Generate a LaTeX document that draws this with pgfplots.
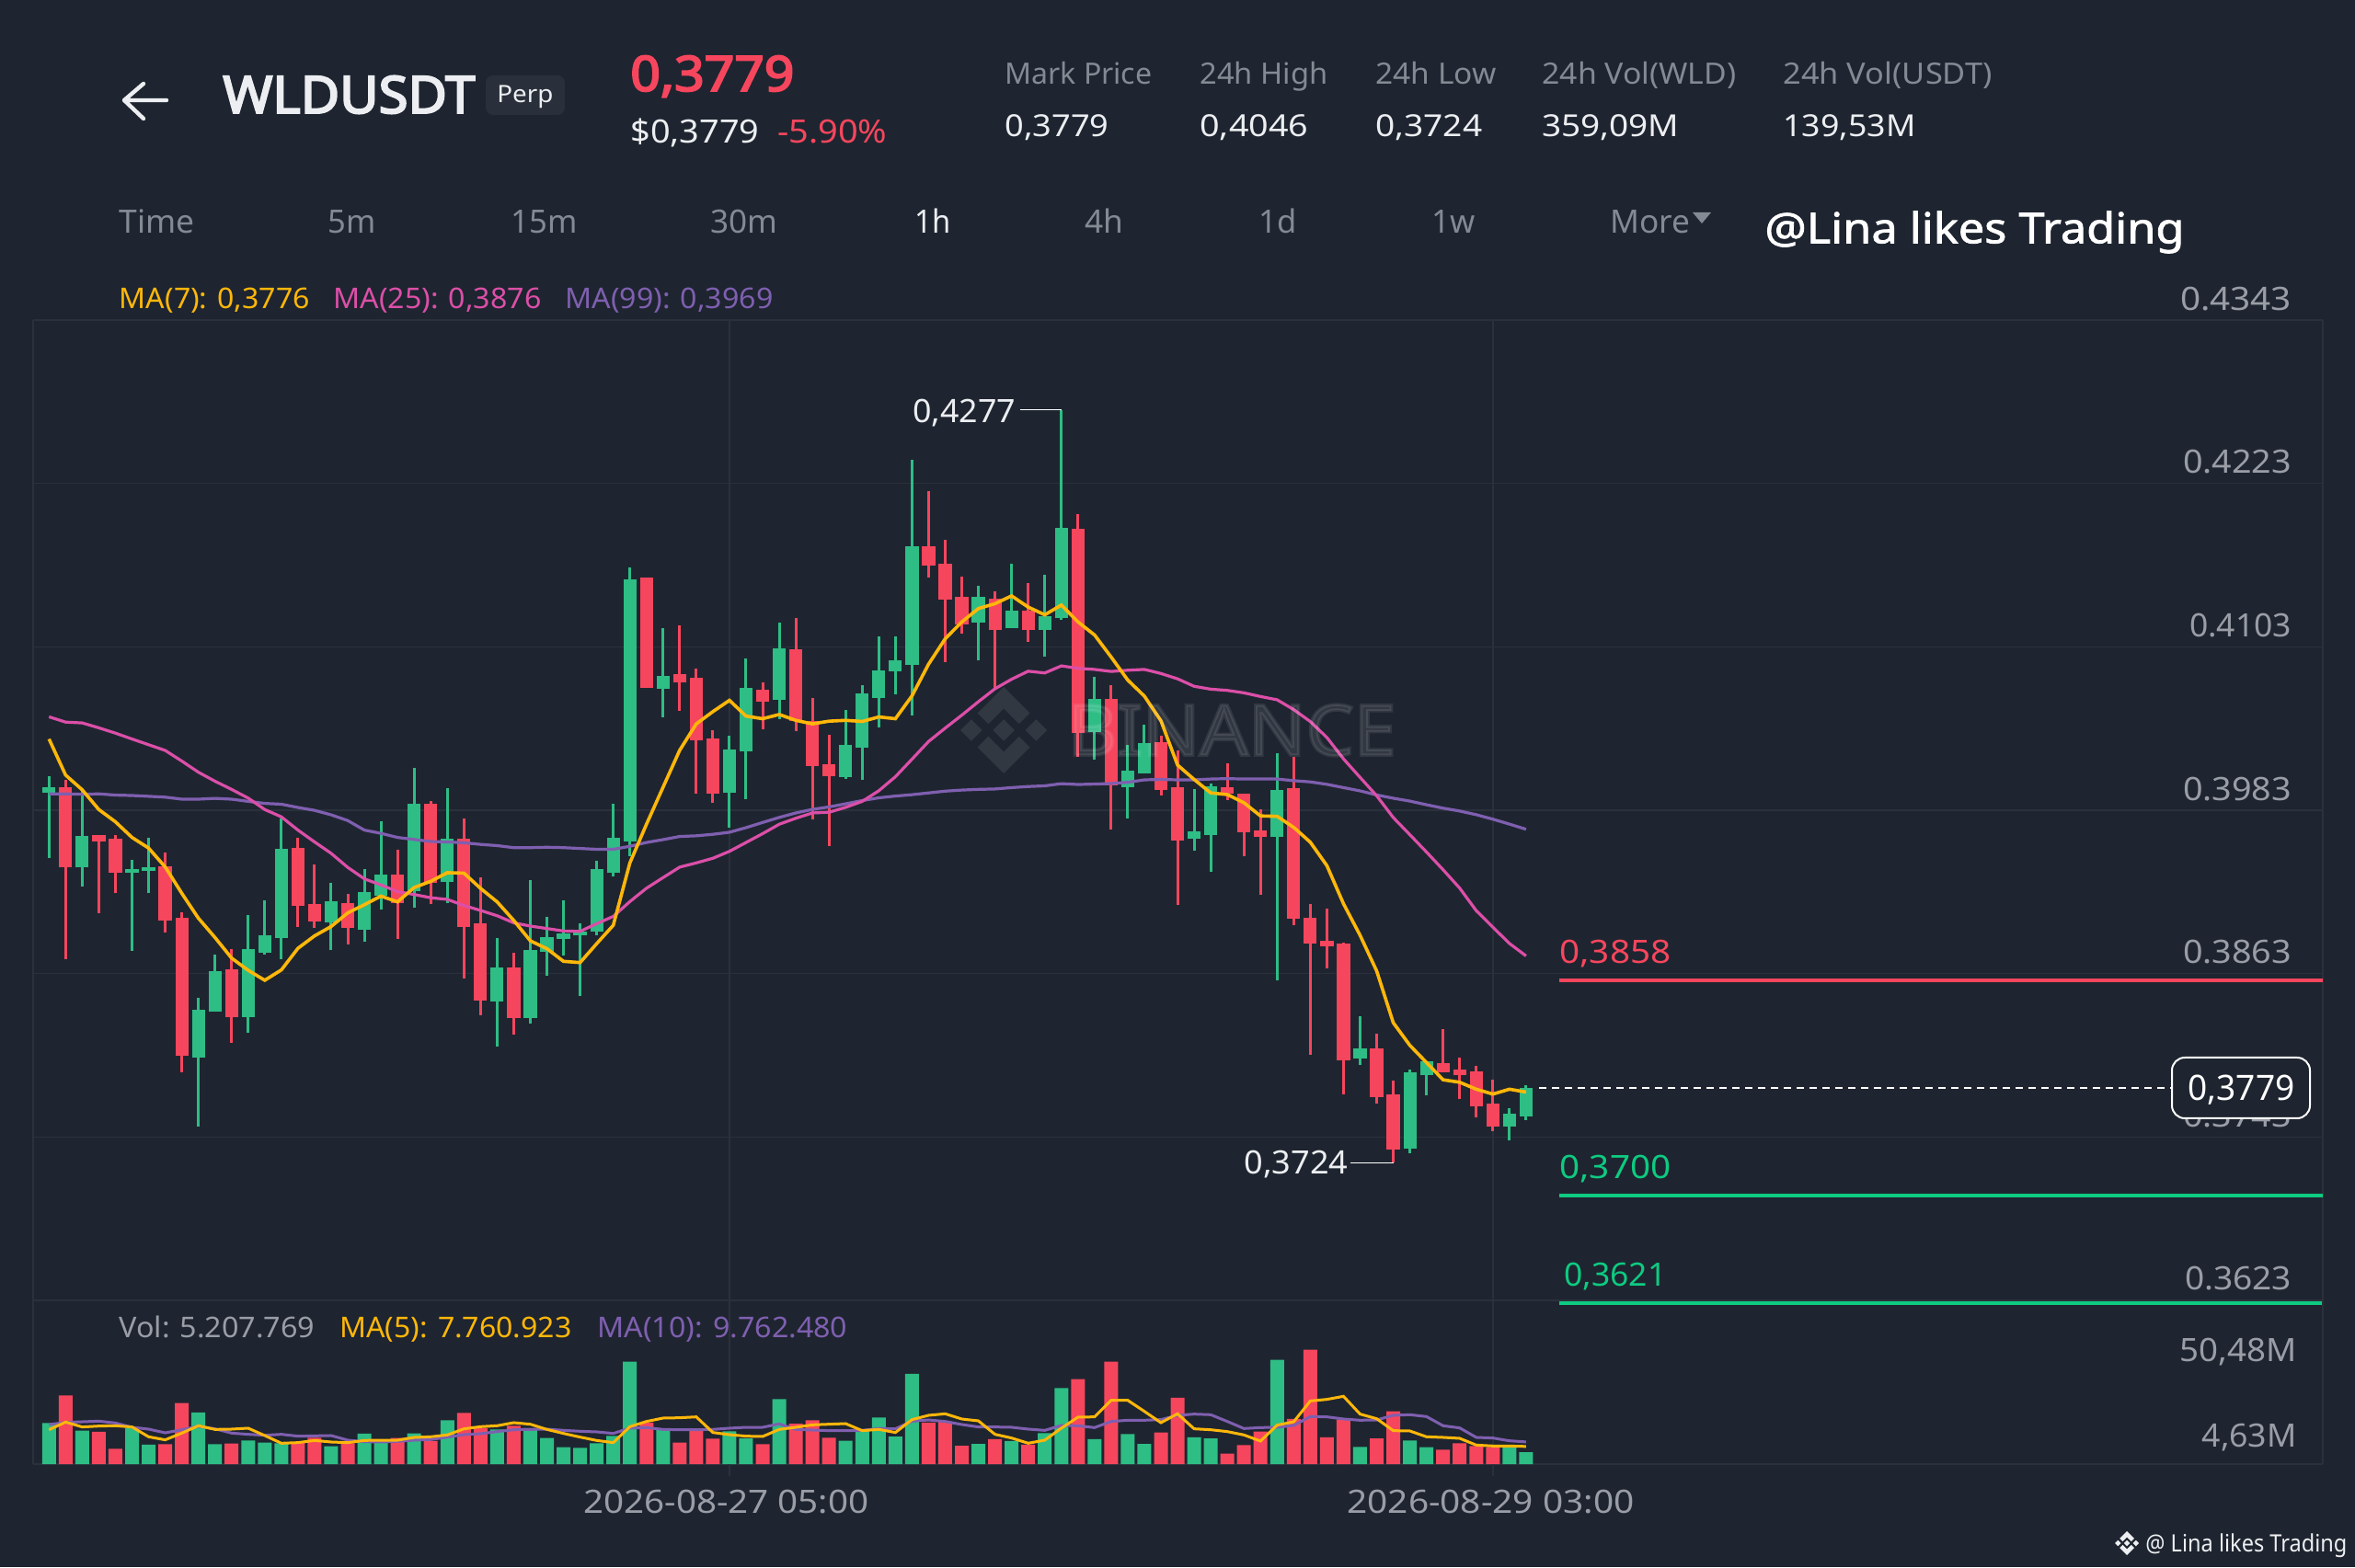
\documentclass[border=0pt]{standalone}
\usepackage{pgfplots}
\usepackage{pgfplotstable}
\usepackage{graphicx}
\usepackage{fontspec}
\setmainfont{Noto Sans}
\newfontfamily\nsb{Noto Sans}[FakeBold=3.6]
\newfontfamily\nsw{Noto Sans}[FakeBold=4.5]
\newfontfamily\nsm{Noto Sans}[FakeBold=1.6]
\pgfplotsset{compat=1.18}
\definecolor{bg}{HTML}{1E2530}
\definecolor{gridc}{HTML}{2A313C}
\definecolor{cgreen}{HTML}{2EBD85}
\definecolor{cred}{HTML}{F6465D}
\definecolor{lgreen}{HTML}{0ECB81}
\definecolor{maor}{HTML}{FFB70A}
\definecolor{mapk}{HTML}{DC4FA8}
\definecolor{mapu}{HTML}{7F5FB0}
\definecolor{gra}{HTML}{848A94}
\definecolor{grb}{HTML}{9A9DA6}
\definecolor{wht}{HTML}{ECEEF1}
\definecolor{badge}{HTML}{2A303B}
\pgfplotstableread{
i o h l c
0 .39959 .40079 .39482 .40001
2 .39413 .39980 .39272 .39639
5 .39371 .39467 .38795 .39401
6 .39383 .39630 .39220 .39413
9 .38015 .38449 .37506 .38361
10 .38352 .38768 .38352 .38651
12 .38313 .39061 .38196 .38810
13 .38783 .39169 .38771 .38910
14 .38892 .39769 .38735 .39543
17 .39009 .39299 .38804 .39160
19 .38952 .39401 .38862 .39232
20 .39199 .39751 .39103 .39359
22 .39235 .40140 .39112 .39880
24 .39302 .39989 .39151 .39621
27 .38422 .38892 .38093 .38672
29 .38301 .39320 .38262 .38801
30 .38792 .39049 .38614 .38901
31 .38883 .39169 .38762 .38928
32 .38910 .39000 .38464 .38937
33 .38940 .39458 .38910 .39401
34 .39368 .39877 .39341 .39630
35 .39598 .41613 .39495 .41526
37 .40720 .41166 .40510 .40818
41 .39960 .40379 .39702 .40278
42 .40260 .40947 .39913 .40730
44 .40639 .41205 .40500 .41017
48 .40076 .40565 .40061 .40309
49 .40291 .40748 .40050 .40688
50 .40657 .41104 .40438 .40856
51 .40849 .41104 .40678 .40929
52 .40898 .42404 .40528 .41766
56 .41208 .41477 .40929 .41399
58 .41166 .41637 .41166 .41298
60 .41156 .41557 .40960 .41257
61 .41239 .42770 .41231 .41905
63 .40407 .40807 .40200 .40647
65 .39999 .40309 .39770 .40120
66 .40099 .40460 .40099 .40322
69 .39619 .39987 .39532 .39674
70 .39649 .40026 .39378 .40008
74 .39631 .40249 .38583 .39981
79 .38004 .38320 .37956 .38079
82 .37344 .37926 .37308 .37902
83 .37883 .37983 .37733 .37983
88 .37504 .37642 .37404 .37600
89 .37582 .37810 .37555 .37790
}\greenT
\pgfplotstableread{
i o h l c
1 .40001 .40055 .38735 .39413
3 .39648 .39648 .39076 .39603
4 .39621 .39648 .39220 .39371
7 .39419 .39519 .38934 .39021
8 .39042 .39082 .37906 .38024
11 .38663 .38810 .38123 .38313
15 .39552 .39630 .38973 .39130
16 .39139 .39431 .38964 .39012
18 .39151 .39217 .38844 .38964
21 .39359 .39540 .38883 .39151
23 .39880 .39898 .39142 .39296
25 .39621 .39769 .38593 .38973
26 .39000 .39338 .38322 .38434
28 .38672 .38780 .38184 .38301
36 .41536 .41536 .40730 .40730
38 .40828 .41187 .40559 .40769
39 .40800 .40867 .39952 .40340
40 .40358 .40417 .39882 .39950
43 .40717 .40769 .40422 .40629
45 .41009 .41239 .40410 .40482
46 .40487 .40657 .39761 .40151
47 .40169 .40386 .39565 .40079
53 .41766 .42174 .41539 .41626
54 .41637 .41815 .40918 .41378
55 .41399 .41546 .41128 .41197
57 .41386 .41435 .40722 .41156
59 .41298 .41497 .41068 .41156
62 .41898 .42004 .40221 .40399
64 .40650 .40747 .39690 .40011
67 .40328 .40376 .39939 .39981
68 .40002 .40267 .39134 .39610
71 .40002 .40177 .39903 .39951
72 .39951 .39951 .39490 .39668
73 .39680 .39836 .39212 .39631
75 .39990 .40219 .38983 .39032
76 .39038 .39140 .38034 .38854
77 .38872 .39107 .38670 .38833
78 .38854 .38860 .37745 .37992
80 .38079 .38188 .37675 .37724
81 .37742 .37841 .37245 .37335
84 .37971 .38221 .37902 .37902
85 .37923 .38010 .37706 .37883
86 .37911 .37953 .37573 .37654
87 .37673 .37850 .37474 .37507
}\redT
\pgfplotstableread{
i ma7 ma25 ma99
0 .40353 .40516 .39950
1 .40088 .40477 .39950
2 .39980 .40471 .39947
3 .39835 .40435 .39950
4 .39745 .40396 .39941
5 .39630 .40353 .39938
6 .39552 .40311 .39932
7 .39413 .40269 .39926
8 .39220 .40191 .39911
9 .39037 .40109 .39911
10 .38895 .40043 .39917
11 .38744 .39983 .39911
12 .38654 .39919 .39895
13 .38581 .39835 .39880
14 .38657 .39781 .39874
15 .38816 .39684 .39850
16 .38907 .39597 .39829
17 .38976 .39513 .39796
18 .39076 .39410 .39754
19 .39136 .39326 .39684
20 .39199 .39281 .39660
21 .39157 .39232 .39630
22 .39262 .39211 .39615
23 .39308 .39187 .39600
24 .39371 .39175 .39597
25 .39368 .39130 .39591
26 .39256 .39094 .39579
27 .39157 .39055 .39570
28 .39021 .39003 .39555
29 .38871 .38979 .39555
30 .38813 .38961 .39558
31 .38720 .38943 .39555
32 .38711 .38940 .39549
33 .38850 .38997 .39543
34 .38985 .39050 .39543
35 .39443 .39159 .39565
36 .39727 .39257 .39593
37 .39999 .39335 .39614
38 .40270 .39412 .39637
39 .40464 .39443 .39642
40 .40554 .39477 .39653
41 .40637 .39528 .39668
42 .40521 .39593 .39702
43 .40502 .39658 .39740
44 .40533 .39727 .39777
45 .40490 .39771 .39810
46 .40464 .39810 .39836
47 .40484 .39815 .39854
48 .40490 .39851 .39877
49 .40482 .39895 .39901
50 .40515 .39973 .39921
51 .40502 .40076 .39934
52 .40670 .40205 .39944
53 .40903 .40335 .39957
54 .41089 .40433 .39970
55 .41213 .40528 .39978
56 .41311 .40627 .39983
57 .41347 .40722 .39986
58 .41404 .40792 .39996
59 .41322 .40851 .40004
60 .41265 .40838 .40009
61 .41337 .40890 .40025
62 .41213 .40872 .40019
63 .41117 .40864 .40022
64 .40955 .40849 .40026
65 .40786 .40858 .40035
66 .40668 .40864 .40053
67 .40487 .40834 .40056
68 .40162 .40795 .40053
69 .40056 .40740 .40053
70 .39957 .40719 .40059
71 .39945 .40710 .40062
72 .39885 .40692 .40059
73 .39788 .40665 .40059
74 .39785 .40641 .40059
75 .39704 .40569 .40047
76 .39595 .40481 .40038
77 .39423 .40364 .40020
78 .39143 .40207 .39996
79 .38911 .40071 .39972
80 .38649 .39936 .39942
81 .38269 .39776 .39918
82 .38103 .39650 .39897
83 .37977 .39523 .39870
84 .37850 .39393 .39845
85 .37832 .39258 .39824
86 .37781 .39092 .39797
87 .37745 .38971 .39764
88 .37781 .38851 .39728
89 .37760 .38760 .39690
}\maT
\pgfplotstableread{
i v
0 18.09
2 14.72
5 15.80
6 8.51
9 22.68
10 8.78
12 10.40
13 9.45
14 9.18
17 7.83
19 13.37
20 9.72
22 13.50
24 19.31
27 15.26
29 15.80
30 11.48
31 7.43
32 7.16
33 9.18
34 12.42
35 45.09
37 14.99
41 14.45
42 11.34
44 28.62
48 10.26
49 14.85
50 20.52
51 12.15
52 39.69
56 8.91
58 10.13
60 13.64
61 33.48
63 10.94
65 13.23
66 8.91
69 11.75
70 11.34
74 45.90
79 7.56
82 10.40
83 7.43
88 7.97
89 5.21
}\vgreen
\pgfplotstableread{
i v
1 30.24
3 14.18
4 6.75
7 8.78
8 26.87
11 9.05
15 9.45
16 11.61
18 9.18
21 11.48
23 10.13
25 22.55
26 15.80
28 16.88
36 18.23
38 9.45
39 14.85
40 11.21
43 8.78
45 17.82
46 19.31
47 11.61
53 18.23
54 18.63
55 8.10
57 10.94
59 8.51
62 37.40
64 45.09
67 13.91
68 29.16
71 4.59
72 8.37
73 14.31
75 19.85
76 50.36
77 11.75
78 19.58
80 11.34
81 23.22
84 6.35
85 9.18
86 7.97
87 7.43
}\vred
\pgfplotstableread{
i ma5 ma10
0 15.12 17.42
1 18.50 18.36
2 16.34 18.63
3 16.74 18.90
4 16.88 18.09
5 16.34 16.20
6 12.02 15.39
7 10.67 13.77
8 13.64 15.12
9 16.88 16.61
10 15.26 15.53
11 15.39 13.64
12 15.80 13.10
13 12.56 12.69
14 9.18 13.10
15 9.45 12.29
16 10.40 12.42
17 9.72 12.56
18 9.45 10.53
19 10.40 9.86
20 10.53 9.72
21 10.53 9.99
22 11.75 10.53
23 12.02 10.80
24 12.83 11.88
25 15.53 12.96
26 16.47 13.37
27 16.88 14.31
28 18.23 15.12
29 17.55 15.26
30 15.26 15.39
31 13.50 14.85
32 11.88 14.45
33 10.40 14.18
34 9.45 13.50
35 16.47 15.80
36 18.77 16.07
37 20.25 15.26
38 20.39 15.12
39 20.79 15.12
40 13.91 15.26
41 12.96 15.80
42 12.29 16.20
43 12.15 16.20
44 15.26 17.69
45 16.20 15.26
46 17.28 14.99
47 17.55 14.72
48 17.82 14.72
49 14.72 14.85
50 15.26 15.66
51 13.91 15.53
52 19.58 18.90
53 21.47 19.44
54 22.14 18.77
55 19.85 17.42
56 19.04 16.34
57 13.10 16.34
58 11.48 16.20
59 9.18 15.39
60 10.53 14.85
61 15.80 17.01
62 20.66 16.88
63 20.79 16.07
64 28.08 18.77
65 28.08 19.31
66 23.22 19.31
67 18.23 19.58
68 22.14 21.47
69 15.53 22.01
70 15.12 21.74
71 14.31 18.77
72 12.83 15.66
73 10.13 16.07
74 17.15 16.20
75 18.63 17.01
76 27.81 20.93
77 28.49 20.79
78 29.84 19.85
79 22.01 19.31
80 19.98 19.44
81 14.72 21.47
82 14.58 21.74
83 12.02 20.93
84 11.75 16.88
85 11.34 15.93
86 8.37 11.75
87 7.97 11.48
88 7.97 10.26
89 7.76 9.76
}\vma
\newcommand{\T}[7]{\pgfmathsetmacro\fsz{#4*0.5}\pgfmathsetlengthmacro\tw{#5*0.5}\node[anchor=base #1,inner sep=0pt,text=#6] at (#2,{#3+0.357*#4}) {\fontsize{\fsz}{\fsz}\selectfont\resizebox{\tw}{\height}{#7}};}
\newcommand{\binlogo}[4]{%
\begin{scope}[shift={(#1,#2)},x=#3*0.5pt,y=-#3*0.5pt]
\fill[#4] (0,1)--(.605,.395)--(.355,.145)--(0,.5)--(-.355,.145)--(-.605,.395)--cycle;
\fill[#4] (0,-1)--(.605,-.395)--(.355,-.145)--(0,-.5)--(-.355,-.145)--(-.605,-.395)--cycle;
\fill[#4] (0,.25)--(.25,0)--(0,-.25)--(-.25,0)--cycle;
\fill[#4] (.75,.25)--(1,0)--(.75,-.25)--(.5,0)--cycle;
\fill[#4] (-.75,.25)--(-.5,0)--(-.75,-.25)--(-1,0)--cycle;
\end{scope}}
\pgfplotsset{candle/.style 2 args={draw=none,mark=none,forget plot,error bars/.cd,y dir=plus,y explicit,error mark=none,error bar style={draw=#1,line width=#2}}}
\begin{document}
\begin{tikzpicture}
\path[use as bounding box,fill=bg] (0,0) rectangle (1280pt,852pt);
\begin{axis}[at={(18pt,145pt)},anchor=south west,scale only axis,width=1244.5pt,height=533pt,
 xmin=-0.959,xmax=137.01,ymin=0.3623,ymax=0.4343,clip=false,
 axis line style={draw=none},tick style={draw=none},
 xtick={-0.959,41,87,137.01},ytick={0.3623,0.3743,0.3863,0.3983,0.4103,0.4223,0.4343},
 xticklabels={},yticklabels={},grid=major,grid style={gridc,line width=0.8pt}]
\addplot[candle={cgreen}{1.5pt}] table[x=i,y=l,y error plus expr=\thisrow{h}-\thisrow{l}]{\greenT};
\addplot[candle={cred}{1.5pt}] table[x=i,y=l,y error plus expr=\thisrow{h}-\thisrow{l}]{\redT};
\addplot[candle={cgreen}{7.1pt}] table[x=i,y=o,y error plus expr=\thisrow{c}-\thisrow{o}]{\greenT};
\addplot[candle={cred}{7.1pt}] table[x=i,y=c,y error plus expr=\thisrow{o}-\thisrow{c}]{\redT};
\addplot[mapu,line width=1.6pt,no marks] table[x=i,y=ma99]{\maT};
\addplot[mapk,line width=1.6pt,no marks] table[x=i,y=ma25]{\maT};
\addplot[maor,line width=1.8pt,no marks] table[x=i,y=ma7]{\maT};
\addplot[cred,line width=1.8pt,no marks] coordinates {(91,0.3858) (137.01,0.3858)};
\addplot[lgreen,line width=1.8pt,no marks] coordinates {(91,0.3700) (137.01,0.3700)};
\addplot[lgreen,line width=1.8pt,no marks] coordinates {(91,0.3621) (137.01,0.3621)};
\addplot[white,line width=1.1pt,dash pattern=on 4pt off 3pt,no marks] coordinates {(89.8,0.3779) (127.9,0.3779)};
\addplot[white,line width=0.6pt,no marks] coordinates {(58.5,0.4277) (61,0.4277)};
\addplot[white,line width=0.6pt,no marks] coordinates {(78.4,0.3724) (81,0.3724)};
\end{axis}
\begin{axis}[at={(18pt,56pt)},anchor=south west,scale only axis,width=1244.5pt,height=89pt,
 xmin=-0.959,xmax=137.01,ymin=0,ymax=72.09,clip=false,
 axis line style={draw=none},tick style={draw=none},
 xtick={-0.959,41,87,137.01},ytick={0},
 xticklabels={},yticklabels={},grid=major,grid style={gridc,line width=0.8pt}]
\addplot[ybar,bar width=7.5pt,bar shift=0pt,fill=cgreen,draw=none,forget plot] table[x=i,y=v]{\vgreen};
\addplot[ybar,bar width=7.5pt,bar shift=0pt,fill=cred,draw=none,forget plot] table[x=i,y=v]{\vred};
\addplot[mapu,line width=1.5pt,no marks] table[x=i,y=ma10]{\vma};
\addplot[maor,line width=1.5pt,no marks] table[x=i,y=ma5]{\vma};
\addplot[gridc,line width=0.8pt,no marks] coordinates {(41,0) (41,-5.3)};
\addplot[gridc,line width=0.8pt,no marks] coordinates {(87,0) (87,-5.3)};
\end{axis}
\begin{scope}[x=0.5pt,y=-0.5pt,yshift=852pt]
% watermark
\binlogo{1091}{794}{47}{white,opacity=0.09}
\begin{scope}[opacity=0.09]
\T{west}{1160}{794}{76}{357}{white}{\nsw BINANCE}
\end{scope}
% header
\draw[wht,line width=2.2pt,line cap=round,line join=round] (156,91)--(135,109)--(156,129) (135,109)--(181,109);
\T{west}{242}{103}{56}{274}{wht}{\nsb WLDUSDT}
\fill[badge,rounded corners=4pt] (528,82) rectangle (614,125);
\T{west}{540}{102}{26}{61}{wht}{Perp}
\T{west}{685}{80}{53}{178}{cred}{\nsb 0,3779}
\T{west}{685}{143.5}{35}{140}{wht}{\$0,3779}
\T{west}{845}{143.5}{35}{119}{cred}{-5.90\%}
\T{west}{1092}{80}{32}{160}{gra}{Mark Price}
\T{west}{1304}{80}{32}{139}{gra}{24h High}
\T{west}{1495}{80}{32}{131}{gra}{24h Low}
\T{west}{1676}{80}{32}{211}{gra}{24h Vol(WLD)}
\T{west}{1938}{80}{32}{227}{gra}{24h Vol(USDT)}
\T{west}{1092}{137}{33}{113}{wht}{0,3779}
\T{west}{1304}{137}{33}{118}{wht}{0,4046}
\T{west}{1495}{137}{33}{116}{wht}{0,3724}
\T{west}{1676}{137}{33}{149}{wht}{359,09M}
\T{west}{1938}{137}{33}{144}{wht}{139,53M}
% intervals
\T{west}{129}{241}{35}{82}{gra}{Time}
\T{west}{356}{241}{35}{52}{gra}{5m}
\T{west}{555}{241}{35}{72}{gra}{15m}
\T{west}{772}{241}{35}{73}{gra}{30m}
\T{west}{994}{241}{35}{39}{wht}{1h}
\T{west}{1179}{241}{35}{42}{gra}{4h}
\T{west}{1368}{241}{35}{41}{gra}{1d}
\T{west}{1556}{241}{35}{47}{gra}{1w}
\T{west}{1750}{241}{35}{87}{gra}{More}
\fill[gra] (1840,231)--(1860,231)--(1850,243)--cycle;
\T{west}{1918}{248}{46}{456}{white}{\nsm @Lina likes Trading}
% MA legend
\T{west}{129.5}{324}{31}{207}{maor}{MA(7): 0,3776}
\T{west}{362}{324}{31}{226}{mapk}{MA(25): 0,3876}
\T{west}{614}{324}{31}{226}{mapu}{MA(99): 0,3969}
% price axis
\T{east}{2491.5}{325}{35}{121}{grb}{0.4343}
\T{east}{2491.5}{502}{35}{118}{grb}{0.4223}
\T{east}{2491.5}{680}{35}{111}{grb}{0.4103}
\T{east}{2491.5}{858}{35}{118}{grb}{0.3983}
\T{east}{2491.5}{1035.5}{35}{118}{grb}{0.3863}
\T{east}{2491.5}{1213.5}{35}{118}{grb}{0.3743}
\T{east}{2491.5}{1390.5}{35}{116}{grb}{0.3623}
\T{east}{2497}{1468.5}{35}{127}{grb}{50,48M}
\T{east}{2497}{1561.5}{35}{103}{grb}{4,63M}
% last price box
\draw[white,line width=1pt,fill=bg,rounded corners=7pt] (2361,1150) rectangle (2511,1216);
\T{west}{2378}{1183}{38}{116}{white}{0,3779}
% levels
\T{west}{1695}{1035}{35}{121}{cred}{0,3858}
\T{west}{1695}{1269}{35}{121}{lgreen}{0,3700}
\T{west}{1700}{1386}{35}{111}{lgreen}{0,3621}
% extremes
\T{west}{992}{447}{35}{112}{wht}{0,4277}
\T{west}{1352}{1264}{35}{113}{wht}{0,3724}
% volume legend
\T{west}{129}{1443}{31}{213}{grb}{Vol: 5.207.769}
\T{west}{369}{1443}{31}{252}{maor}{MA(5): 7.760.923}
\T{west}{649}{1443}{31}{272}{mapu}{MA(10): 9.762.480}
% dates
\T{west}{634}{1633}{35}{310}{grb}{2026-08-27 05:00}
\T{west}{1464}{1633}{35}{312}{grb}{2026-08-29 03:00}
% footer
\binlogo{2312}{1678}{13}{wht}
\T{west}{2332}{1678}{26}{219}{wht}{@ Lina likes Trading}
\end{scope}
\end{tikzpicture}
\end{document}
